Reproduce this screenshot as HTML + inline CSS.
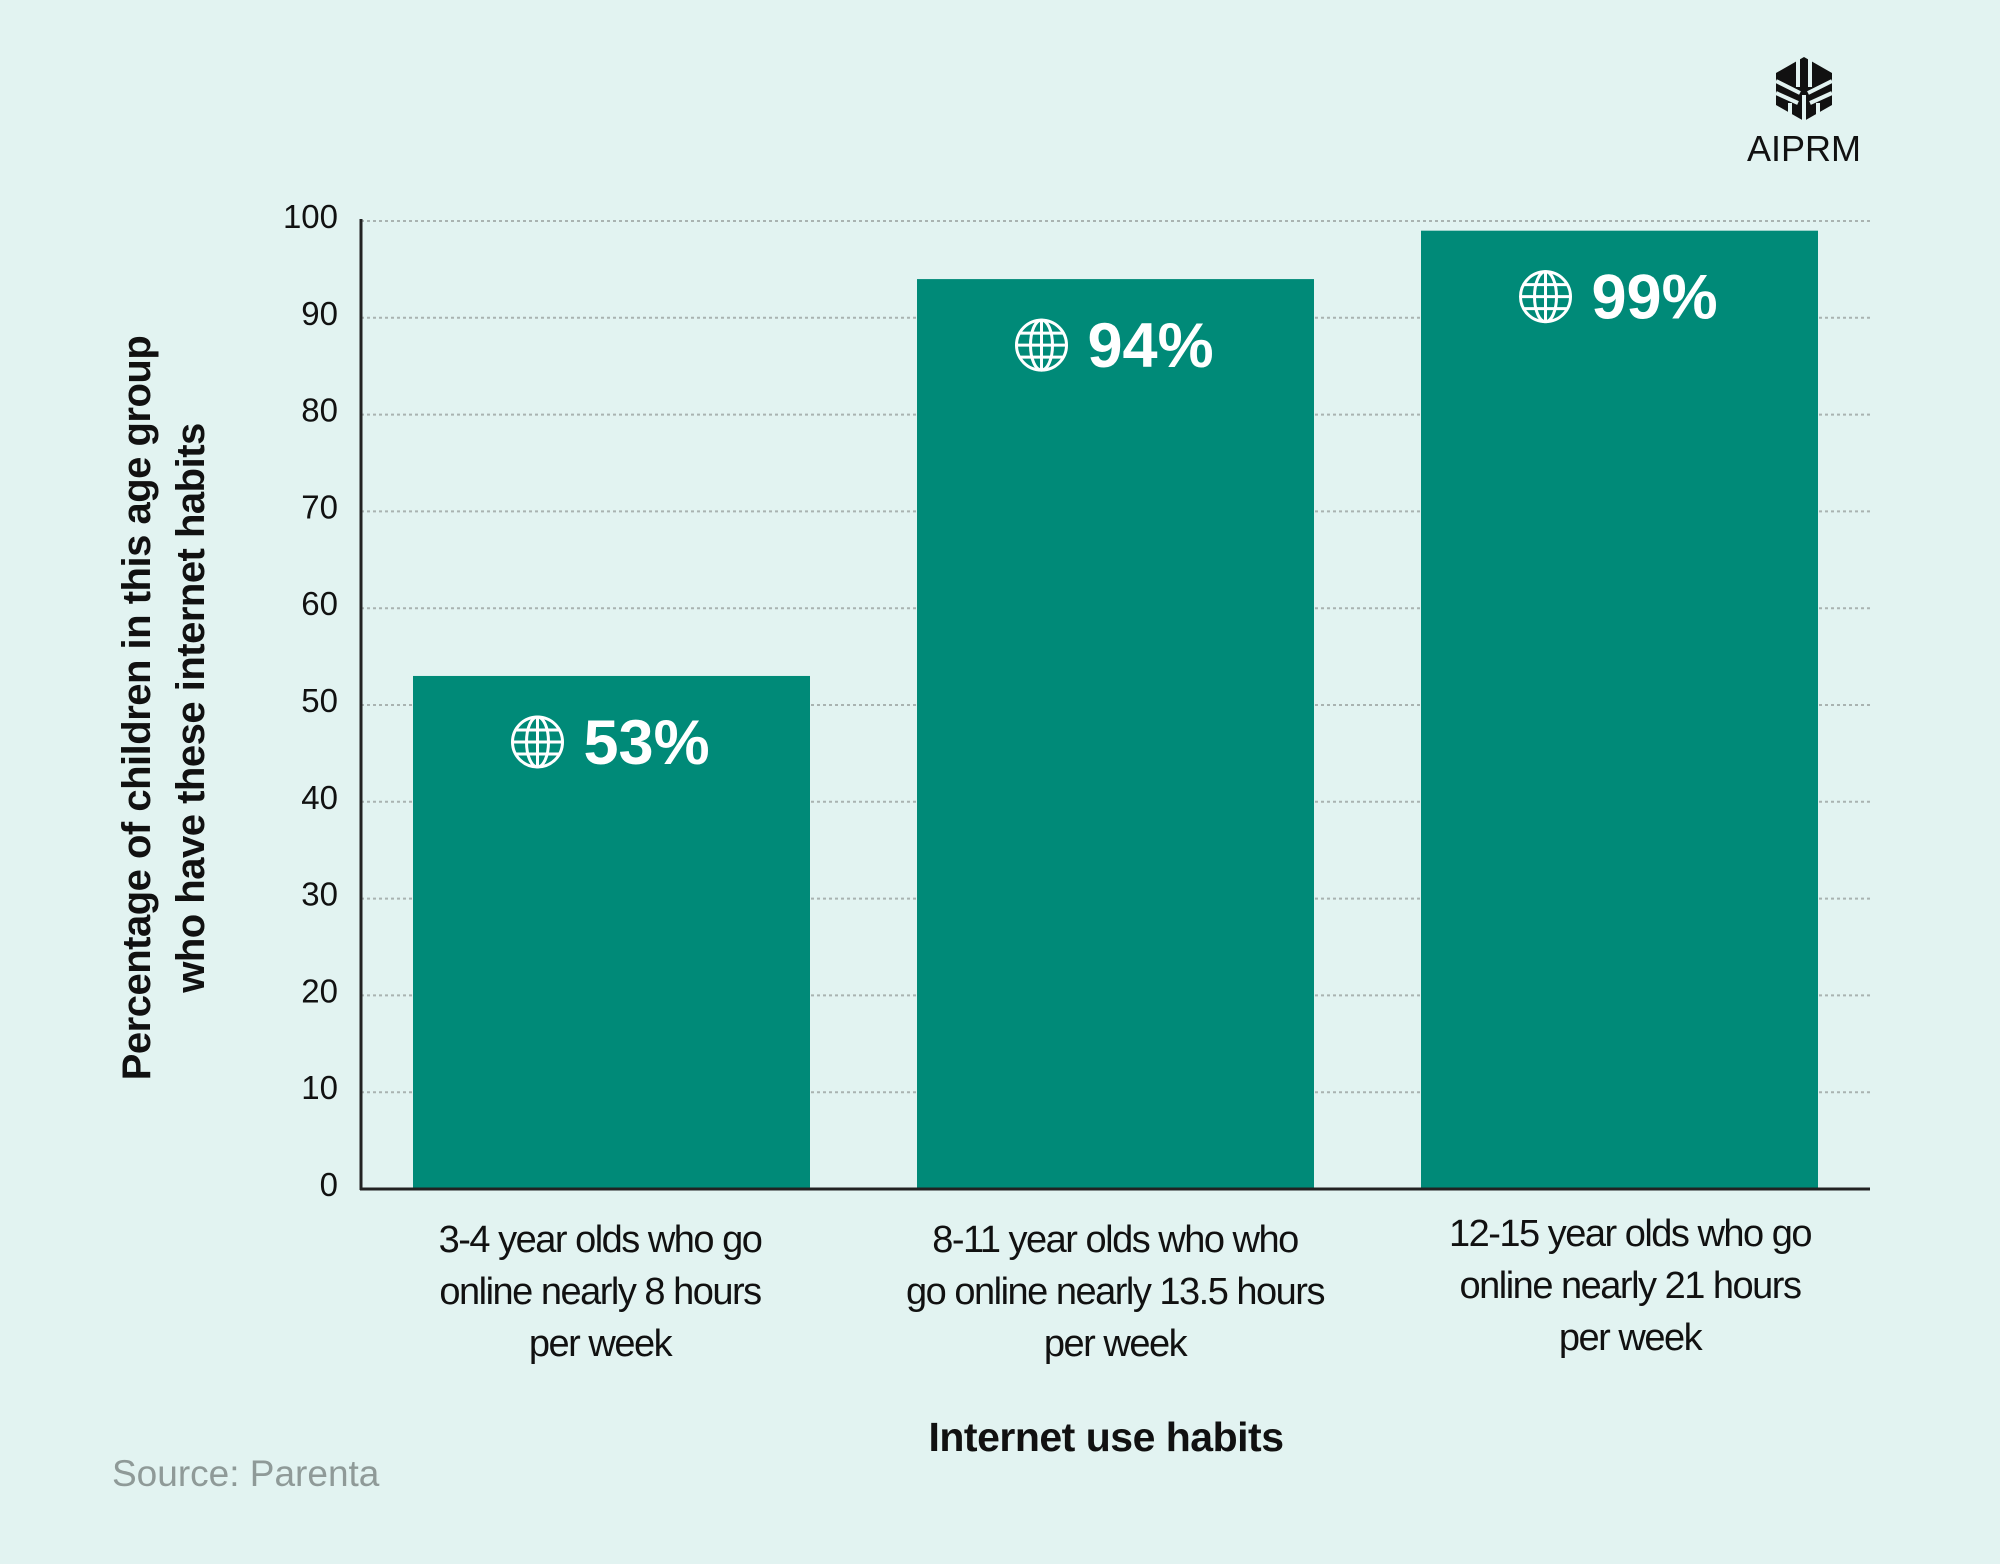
<!DOCTYPE html>
<html><head><meta charset="utf-8"><style>
body{margin:0;background:#e2f3f1;}
svg{display:block;font-family:"Liberation Sans",sans-serif;}
</style></head><body>
<svg width="2000" height="1564" viewBox="0 0 2000 1564">
<rect width="2000" height="1564" fill="#e2f3f1"/>
<g>
 <g transform="translate(1804,89)" fill="#111">
  <polygon points="0,-32 28,-16 28,16 0,32 -28,16 -28,-16" fill="#111"/>
  <g stroke="#e2f3f1" stroke-width="4" fill="none">
   <line x1="-6" y1="-32" x2="-6" y2="-2"/><line x1="6" y1="-32" x2="6" y2="-2"/>
   <line x1="-28" y1="-8" x2="-4" y2="4"/><line x1="28" y1="-8" x2="4" y2="4"/>
   <line x1="-28" y1="4" x2="-6" y2="14"/><line x1="28" y1="4" x2="6" y2="14"/>
   <line x1="0" y1="6" x2="0" y2="32"/>
   <line x1="-14" y1="14" x2="-14" y2="28"/><line x1="14" y1="14" x2="14" y2="28"/>
  </g>
 </g>
 <text x="1804" y="161" text-anchor="middle" font-size="36" fill="#111">AIPRM</text>
</g>
<g id="grid"></g>
<g id="bars"></g>
<g id="labels"></g>
<line x1="361" y1="219" x2="361" y2="1190" stroke="#222" stroke-width="3"/>
<line x1="360" y1="1189" x2="1870" y2="1189" stroke="#222" stroke-width="3"/>
<text transform="translate(150,708) rotate(-90)" text-anchor="middle" font-size="40" font-weight="bold" fill="#111" letter-spacing="-0.5"><tspan x="0" dy="0">Percentage of children in this age group</tspan><tspan x="0" dy="54">who have these internet habits</tspan></text>
<text x="1106" y="1451" text-anchor="middle" font-size="41" font-weight="bold" fill="#111" letter-spacing="-0.5">Internet use habits</text>
<text x="112" y="1486" font-size="37" fill="#8f9a98">Source: Parenta</text>
</svg>
<script>
const categories=[["3-4 year olds who go","online nearly 8 hours","per week"],["8-11 year olds who who","go online nearly 13.5 hours","per week"],["12-15 year olds who go","online nearly 21 hours","per week"]];
const values=[53,94,99];
const valueLabels=["53%","94%","99%"];
const ticks=[0,10,20,30,40,50,60,70,80,90,100];
const NS="http://www.w3.org/2000/svg";
const y0=1189,y100=221,left=361,right=1870;
function yScale(v){return y0-(y0-y100)*v/100;}
const barW=397;
function xCenter(i){return 611.5+504*i;}
function labelCenter(i){return 1115+515*(i-1);}
function mk(t,a,p){const e=document.createElementNS(NS,t);for(const k in a)e.setAttribute(k,a[k]);p.appendChild(e);return e;}
const grid=document.getElementById('grid'),bars=document.getElementById('bars'),labels=document.getElementById('labels');
ticks.forEach(t=>{const y=yScale(t);
 if(t>0){const l=mk('line',{x1:left,x2:right,y1:y,y2:y,stroke:'#a9b3b1','stroke-width':2,'stroke-dasharray':'3 3'},grid);
 
 }
 const tx=mk('text',{x:338,y:y+7,'text-anchor':'end','font-size':33,fill:'#111'},grid);
 tx.textContent=t;
 
 
});
values.forEach((v,i)=>{const cx=xCenter(i),yt=yScale(v);
 const r=mk('rect',{x:cx-barW/2,y:yt,width:barW,height:y0-yt,fill:'#008a78'},bars);
 
 
 const ly=yt+76;
 const g=mk('g',{transform:'translate('+(cx-74)+','+(ly-10)+')',fill:'none',stroke:'#fff','stroke-width':3},labels);
 
 
 mk('circle',{cx:0,cy:0,r:25},g);mk('ellipse',{cx:0,cy:0,rx:11,ry:25},g);
 mk('line',{x1:0,y1:-25,x2:0,y2:25},g);mk('line',{x1:-25,y1:0,x2:25,y2:0},g);
 mk('line',{x1:-21,y1:-12,x2:21,y2:-12},g);mk('line',{x1:-21,y1:12,x2:21,y2:12},g);
 const t=mk('text',{x:cx-28,y:ly+12,'font-size':63,'font-weight':'bold',fill:'#fff'},labels);
 t.textContent=valueLabels[i];
 
 
 const base=i==2?1246:1252;
 const lx=labelCenter(i);
 categories[i].forEach((line,j)=>{const c=mk('text',{x:lx,y:base+j*52,'text-anchor':'middle','font-size':38,fill:'#111','letter-spacing':'-1.5'},labels);
 c.textContent=line;
 
 });
});
</script>
</body></html>
